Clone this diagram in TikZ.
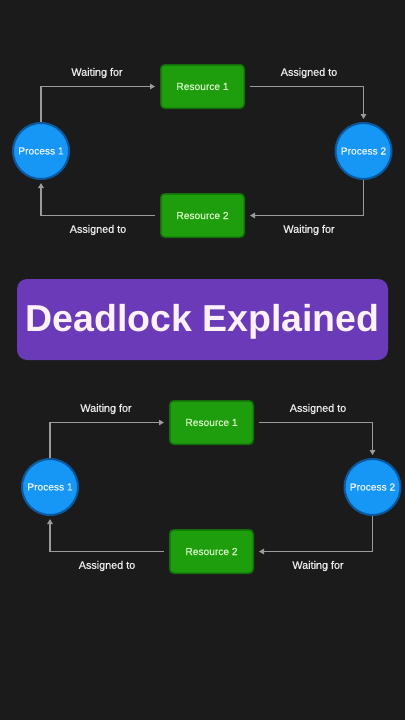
\documentclass[tikz,border=0pt]{standalone}
\usepackage{fontspec}
\setmainfont{Liberation Sans}
\newfontfamily\medfont[FakeBold=0.6]{Liberation Sans}
\usetikzlibrary{arrows.meta}
\definecolor{bgc}{RGB}{27,27,27}
\definecolor{arrc}{RGB}{155,155,155}
\definecolor{resfill}{RGB}{30,158,12}
\definecolor{resdraw}{RGB}{18,108,10}
\definecolor{restext}{RGB}{214,246,198}
\definecolor{procfill}{RGB}{22,150,245}
\definecolor{procdraw}{RGB}{12,88,158}
\definecolor{proctext}{RGB}{232,244,255}
\definecolor{titlefill}{RGB}{106,58,184}
\definecolor{titletext}{RGB}{253,242,250}
\definecolor{labtext}{RGB}{236,236,236}
\tikzset{
  procnode/.style={circle,fill=procfill,draw=procdraw,line width=2pt,minimum size=56pt,inner sep=0pt,text=proctext,font=\medfont\fontsize{10.2}{12}\selectfont},
  resnode/.style={rectangle,rounded corners=4pt,fill=resfill,draw=resdraw,line width=1.5pt,minimum width=83.5pt,minimum height=43.5pt,inner sep=0pt,text=restext,font=\medfont\fontsize{10.2}{12}\selectfont},
  labnode/.style={text=labtext,inner sep=0pt,font=\medfont\fontsize{10.8}{13}\selectfont},
  arr/.style={draw=arrc,line width=1.7pt,-{Triangle[length=5pt,width=5.5pt]}},
}
\newcommand{\dlcycle}[3]{%
\begin{scope}[shift={(#1,#2)}]
  \node[procnode] (p1#3) at (41,151) {Process 1};
  \node[procnode] (p2#3) at (363.5,151) {Process 2};
  \node[resnode] (r1#3) at (202.5,86.5) {Resource 1};
  \node[resnode] (r2#3) at (202.5,215.5) {Resource 2};
  \node[labnode] (la#3) at (97,73) {Waiting for};
  \node[labnode] (lb#3) at (309,73) {Assigned to};
  \node[labnode] (lc#3) at (98,230) {Assigned to};
  \node[labnode] (ld#3) at (309,230) {Waiting for};
  \draw[arr] (p1#3.north) |- ([xshift=-5pt]r1#3.west);
  \draw[arr] ([xshift=5pt]r1#3.east) -| ([yshift=3pt]p2#3.north);
  \draw[arr] (p2#3.south) |- ([xshift=5pt]r2#3.east);
  \draw[arr] ([xshift=-5pt]r2#3.west) -| ([yshift=-3pt]p1#3.south);
\end{scope}}
\begin{document}
\begin{tikzpicture}[x=1pt,y=-1pt]
  \fill[bgc] (0,0) rectangle (405,720);
  \useasboundingbox (0,0) rectangle (405,720);
  \dlcycle{0}{0}{t}
  \dlcycle{9}{336}{b}
  \node[rectangle,rounded corners=10pt,fill=titlefill,minimum width=371pt,minimum height=81pt,inner sep=0pt] (title) at (202.5,319.5) {};
  \node[anchor=base,inner sep=0pt,text=titletext,font=\bfseries\fontsize{37.5}{40}\selectfont] (titletxt) at (202.5,331) {Deadlock Explained};
\end{tikzpicture}
\end{document}
